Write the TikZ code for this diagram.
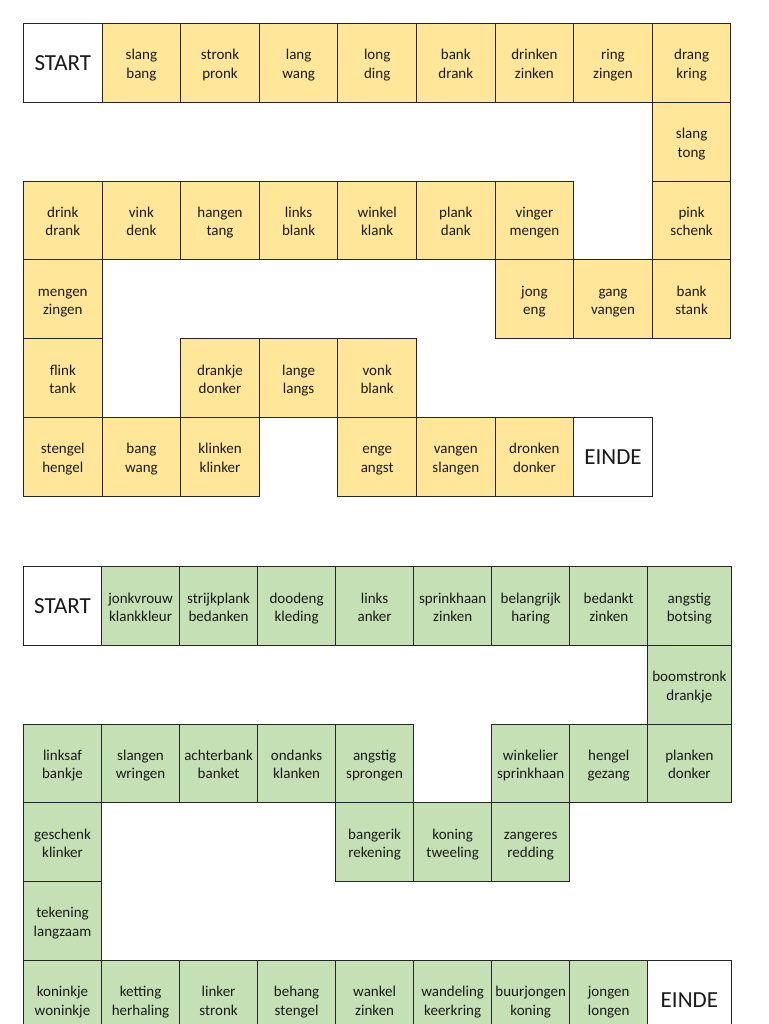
\documentclass[tikz,border=0pt]{standalone}
\usepackage{fontspec}
\setmainfont{Carlito}
\definecolor{cyellow}{HTML}{FFE699}
\definecolor{cgreen}{HTML}{C5E0B4}
\definecolor{cline}{HTML}{262626}
\definecolor{ctext}{HTML}{1A1A1A}
\tikzset{
  cellbase/.style={draw=cline, line width=0.9pt, inner sep=0pt, align=center,
    text=ctext, font=\fontsize{15}{18.5}\selectfont},
  ycell/.style={cellbase, fill=cyellow, minimum width=78.6pt, minimum height=78.8pt},
  ywhite/.style={ycell, fill=white, font=\fontsize{23}{26}\selectfont},
  gcell/.style={cellbase, fill=cgreen, minimum width=78.03pt, minimum height=78.7pt},
  gwide/.style={gcell, minimum width=83.3pt},
  gwhite/.style={gcell, fill=white, font=\fontsize{23}{26}\selectfont},
  gwidewhite/.style={gwide, fill=white, font=\fontsize{23}{26}\selectfont},
}
\newcommand\topstrut{\rule{0pt}{\dimexpr\ht\strutbox+5pt\relax}}
\newcommand\tcell[5][ycell]{\node[#1] (#2) at ({23.5+(#3-0.5)*78.6},{23.5+(#4-0.5)*78.8}) {\topstrut#5\strut};}
\newcommand\bcell[5][gcell]{\node[#1] (#2) at ({23.5+(#3-0.5)*78.03},{566.7+(#4-0.5)*78.7}) {\topstrut#5\strut};}
\newcommand\bcellnine[4][gwide]{\node[#1] (#2) at (689.35,{566.7+(#3-0.5)*78.7}) {\topstrut#4\strut};}
\begin{document}
\begin{tikzpicture}[x=1pt,y=-1pt]
\useasboundingbox (0,0) rectangle (768,1024);
\clip (0,0) rectangle (768,1024);
\fill[white] (0,0) rectangle (768,1024);
% top board
\tcell[ywhite]{tstart}{1}{1}{START}
\tcell{t12}{2}{1}{slang\\bang}
\tcell{t13}{3}{1}{stronk\\pronk}
\tcell{t14}{4}{1}{lang\\wang}
\tcell{t15}{5}{1}{long\\ding}
\tcell{t16}{6}{1}{bank\\drank}
\tcell{t17}{7}{1}{drinken\\zinken}
\tcell{t18}{8}{1}{ring\\zingen}
\tcell{t19}{9}{1}{drang\\kring}
\tcell{t29}{9}{2}{slang\\tong}
\tcell{t31}{1}{3}{drink\\drank}
\tcell{t32}{2}{3}{vink\\denk}
\tcell{t33}{3}{3}{hangen\\tang}
\tcell{t34}{4}{3}{links\\blank}
\tcell{t35}{5}{3}{winkel\\klank}
\tcell{t36}{6}{3}{plank\\dank}
\tcell{t37}{7}{3}{vinger\\mengen}
\tcell{t39}{9}{3}{pink\\schenk}
\tcell{t41}{1}{4}{mengen\\zingen}
\tcell{t47}{7}{4}{jong\\eng}
\tcell{t48}{8}{4}{gang\\vangen}
\tcell{t49}{9}{4}{bank\\stank}
\tcell{t51}{1}{5}{flink\\tank}
\tcell{t53}{3}{5}{drankje\\donker}
\tcell{t54}{4}{5}{lange\\langs}
\tcell{t55}{5}{5}{vonk\\blank}
\tcell{t61}{1}{6}{stengel\\hengel}
\tcell{t62}{2}{6}{bang\\wang}
\tcell{t63}{3}{6}{klinken\\klinker}
\tcell{t65}{5}{6}{enge\\angst}
\tcell{t66}{6}{6}{vangen\\slangen}
\tcell{t67}{7}{6}{dronken\\donker}
\tcell[ywhite]{teinde}{8}{6}{EINDE}
% bottom board
\bcell[gwhite]{bstart}{1}{1}{START}
\bcell{b12}{2}{1}{jonkvrouw\\klankkleur}
\bcell{b13}{3}{1}{strijkplank\\bedanken}
\bcell{b14}{4}{1}{doodeng\\kleding}
\bcell{b15}{5}{1}{links\\anker}
\bcell{b16}{6}{1}{sprinkhaan\\zinken}
\bcell{b17}{7}{1}{belangrijk\\haring}
\bcell{b18}{8}{1}{bedankt\\zinken}
\bcellnine{b19}{1}{angstig\\botsing}
\bcellnine{b29}{2}{boomstronk\\drankje}
\bcell{b31}{1}{3}{linksaf\\bankje}
\bcell{b32}{2}{3}{slangen\\wringen}
\bcell{b33}{3}{3}{achterbank\\banket}
\bcell{b34}{4}{3}{ondanks\\klanken}
\bcell{b35}{5}{3}{angstig\\sprongen}
\bcell{b37}{7}{3}{winkelier\\sprinkhaan}
\bcell{b38}{8}{3}{hengel\\gezang}
\bcellnine{b39}{3}{planken\\donker}
\bcell{b41}{1}{4}{geschenk\\klinker}
\bcell{b45}{5}{4}{bangerik\\rekening}
\bcell{b46}{6}{4}{koning\\tweeling}
\bcell{b47}{7}{4}{zangeres\\redding}
\bcell{b51}{1}{5}{tekening\\langzaam}
\bcell{b61}{1}{6}{koninkje\\woninkje}
\bcell{b62}{2}{6}{ketting\\herhaling}
\bcell{b63}{3}{6}{linker\\stronk}
\bcell{b64}{4}{6}{behang\\stengel}
\bcell{b65}{5}{6}{wankel\\zinken}
\bcell{b66}{6}{6}{wandeling\\keerkring}
\bcell{b67}{7}{6}{buurjongen\\koning}
\bcell{b68}{8}{6}{jongen\\longen}
\bcellnine[gwidewhite]{beinde}{6}{EINDE}
\end{tikzpicture}
\end{document}
